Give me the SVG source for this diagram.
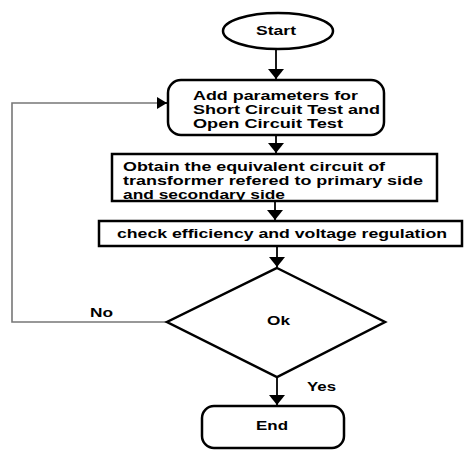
<svg xmlns="http://www.w3.org/2000/svg" width="474" height="455" viewBox="0 0 474 455">
<defs>
<style>
.shape{fill:#fff;stroke:#000;stroke-width:2.5}
.t{font-family:"Liberation Sans",Arial,sans-serif;font-weight:bold;font-size:13.5px;fill:#000}
.s{font-size:12.5px}
.conn{stroke:#000;stroke-width:1.8;fill:none}
.loop{stroke:#777;stroke-width:1.6;fill:none}
</style>
<marker id="ah" markerUnits="userSpaceOnUse" markerWidth="18" markerHeight="12" refX="10" refY="6" orient="auto">
<path d="M0,0 L10,6 L0,12 Z" fill="#000"/>
</marker>
<marker id="ahw" markerUnits="userSpaceOnUse" markerWidth="20" markerHeight="18" refX="10" refY="8" orient="auto">
<path d="M0,0 L10,8 L0,16 Z" fill="#000"/>
</marker>
</defs>
<g id="connectors">
<line class="conn" x1="276" y1="49" x2="276" y2="79" marker-end="url(#ahw)"/>
<line class="conn" x1="276" y1="135" x2="276" y2="153" marker-end="url(#ahw)"/>
<line class="conn" x1="275" y1="201" x2="275" y2="220" marker-end="url(#ahw)"/>
<line class="conn" x1="277" y1="247" x2="277" y2="267" marker-end="url(#ahw)"/>
<line class="conn" x1="277" y1="377" x2="277" y2="405" marker-end="url(#ahw)"/>
<polyline class="loop" points="167,322 12,322 12,103 160,103"/>
<line class="conn" x1="158" y1="103" x2="167" y2="103" marker-end="url(#ah)"/>
<text class="t" x="90" y="317" textLength="23" lengthAdjust="spacingAndGlyphs">No</text>
<text class="t" x="307" y="391" textLength="29" lengthAdjust="spacingAndGlyphs">Yes</text>
</g>
<g id="start">
<ellipse class="shape" cx="278" cy="31" rx="55" ry="18"/>
<text class="t" x="256" y="35" textLength="40" lengthAdjust="spacingAndGlyphs">Start</text>
</g>
<g id="params">
<rect class="shape" x="168" y="80" width="216" height="55" rx="13" ry="13"/>
<text class="t" x="193" y="100" textLength="165" lengthAdjust="spacingAndGlyphs">Add parameters for</text>
<text class="t" x="193" y="114" textLength="187" lengthAdjust="spacingAndGlyphs">Short Circuit Test and</text>
<text class="t" x="193" y="128" textLength="150" lengthAdjust="spacingAndGlyphs">Open Circuit Test</text>
</g>
<g id="equivalent">
<rect class="shape" x="112" y="154" width="325" height="47"/>
<text class="t s" x="123" y="170.5" textLength="262" lengthAdjust="spacingAndGlyphs">Obtain the equivalent circuit of</text>
<text class="t s" x="123" y="184.5" textLength="300" lengthAdjust="spacingAndGlyphs">transformer refered to primary side</text>
<text class="t s" x="123" y="198.5" textLength="162" lengthAdjust="spacingAndGlyphs">and secondary side</text>
</g>
<g id="check">
<rect class="shape" x="99" y="221" width="363" height="25"/>
<text class="t" x="117" y="238" textLength="330" lengthAdjust="spacingAndGlyphs">check efficiency and voltage regulation</text>
</g>
<g id="decision">
<polygon class="shape" points="277,268 385,322 277,377 167,322"/>
<text class="t" x="267" y="325" textLength="23" lengthAdjust="spacingAndGlyphs">Ok</text>
</g>
<g id="end">
<rect class="shape" x="202" y="406" width="142" height="42" rx="12" ry="12"/>
<text class="t" x="256" y="430" textLength="32" lengthAdjust="spacingAndGlyphs">End</text>
</g>
</svg>
